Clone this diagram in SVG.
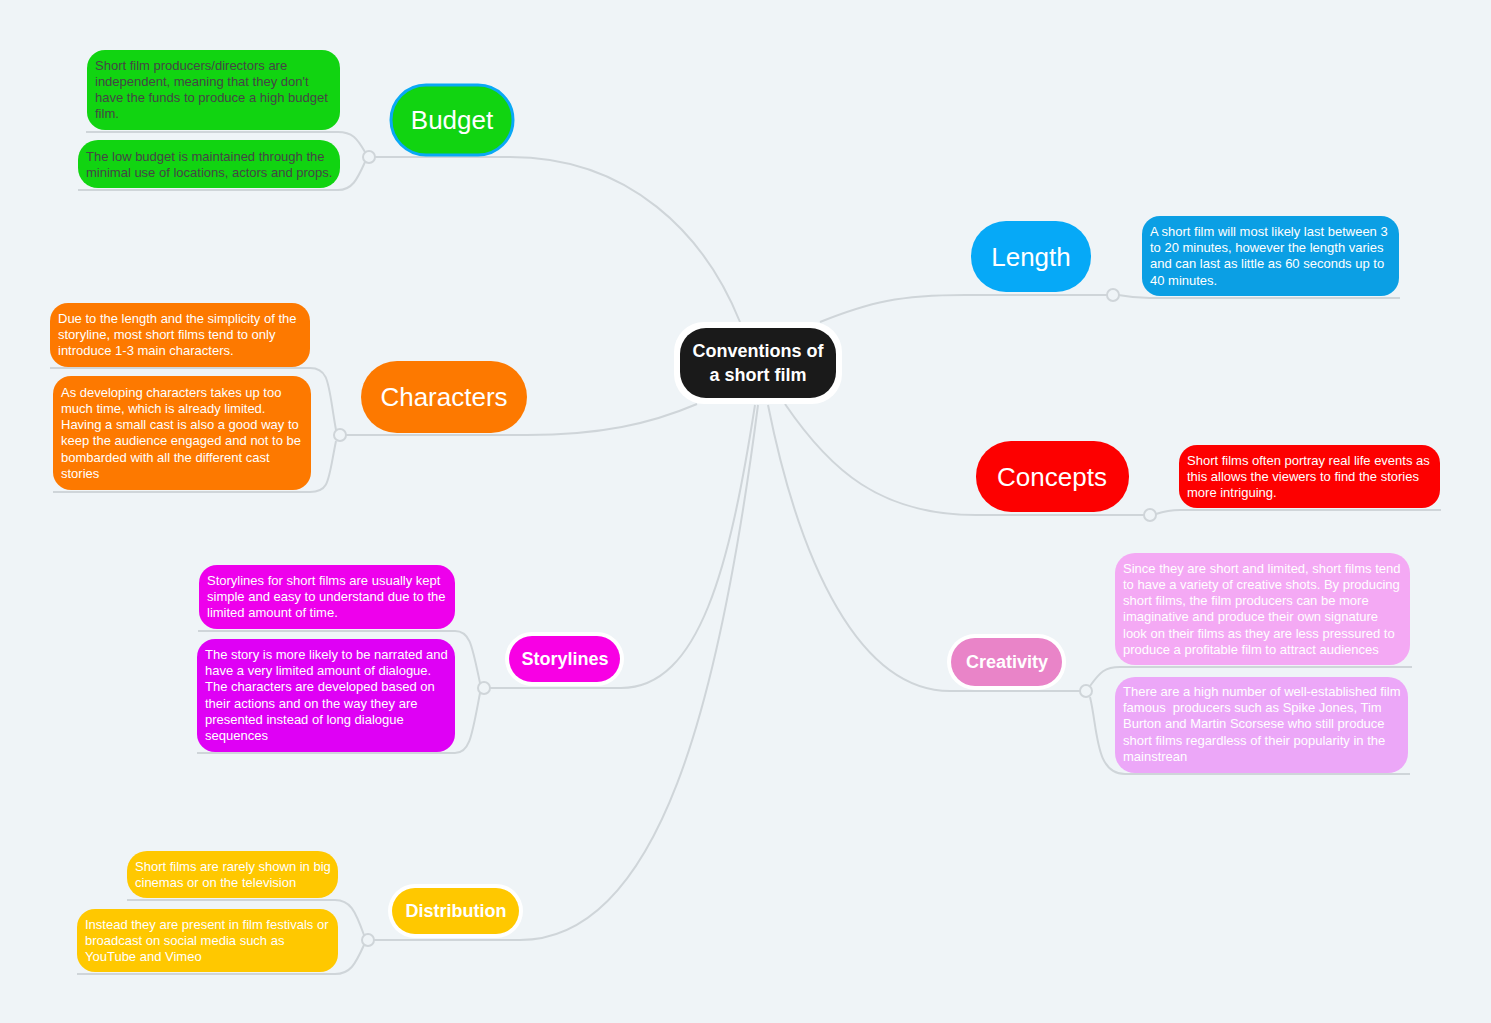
<svg xmlns="http://www.w3.org/2000/svg" width="1491" height="1023" viewBox="0 0 1491 1023">
<style>
.bg{fill:#eff4f7}
.ln{fill:none;stroke:#cfd5d9;stroke-width:2}
.knob{fill:#eff4f7;stroke:#cfd5d9;stroke-width:2}
.big{font-family:"Liberation Sans",Arial,sans-serif;font-size:26px;fill:#fff;text-anchor:middle}
.mid{font-family:"Liberation Sans",Arial,sans-serif;font-size:18px;font-weight:bold;fill:#fff;text-anchor:middle}
.t{font-family:"Liberation Sans",Arial,sans-serif;font-size:13px;fill:#fff}
.td{font-family:"Liberation Sans",Arial,sans-serif;font-size:13px;fill:#454545}
</style>
<rect class="bg" x="0" y="0" width="1491" height="1023"/>
<g id="connectors">
<path class="ln" d="M740,322 C705,235 630,157 510,157 L375,157"/>
<path class="ln" d="M820,322 C870,302 900,295 965,295 L1107,295"/>
<path class="ln" d="M697,404 C650,424 600,435 527,435 L346,435"/>
<path class="ln" d="M785,404 C830,470 880,515 976,515 L1144,515"/>
<path class="ln" d="M768,405 C800,565 860,691 950,691 L1080,691"/>
<path class="ln" d="M755,405 C730,565 700,688 621,688 L490,688"/>
<path class="ln" d="M758,405 C720,700 660,940 520,940 L374,940"/>
<path class="ln" d="M365,152 C357,138 352,132 338,132 L86,132"/>
<path class="ln" d="M365,162 C357,180 352,190 338,190 L78,190"/>
<path class="ln" d="M1119,295 C1130,297 1135,298 1150,298 L1400,298"/>
<path class="ln" d="M1156,514 C1165,511 1170,510 1180,510 L1441,510"/>
<path class="ln" d="M1090,686 C1100,672 1105,667 1120,667 L1412,667"/>
<path class="ln" d="M1090,697 C1098,730 1095,774 1125,774 L1410,774"/>
<path class="ln" d="M336,430 C328,385 330,368 310,368 L50,368"/>
<path class="ln" d="M336,441 C328,480 330,492 310,492 L53,492"/>
<path class="ln" d="M480,683 C472,645 470,631 455,631 L198,631"/>
<path class="ln" d="M480,693 C472,735 470,753 455,753 L197,753"/>
<path class="ln" d="M364,935 C355,910 350,900 335,900 L127,900"/>
<path class="ln" d="M364,945 C355,965 350,974 335,974 L77,974"/>
<circle class="knob" cx="369" cy="157" r="6"/>
<circle class="knob" cx="1113" cy="295" r="6"/>
<circle class="knob" cx="340" cy="435" r="6"/>
<circle class="knob" cx="1150" cy="515" r="6"/>
<circle class="knob" cx="1086" cy="691" r="6"/>
<circle class="knob" cx="484" cy="688" r="6"/>
<circle class="knob" cx="368" cy="940" r="6"/>
</g>
<g id="center">
<rect x="674" y="322" width="168" height="82" rx="30" fill="#fff"/>
<rect x="680" y="328" width="156" height="70" rx="26" fill="#1a1a1a"/>
<text class="mid" x="758" y="357">Conventions of</text>
<text class="mid" x="758" y="381">a short film</text>
</g>
<g id="budget">
<rect x="391" y="85" width="122" height="70" rx="35" fill="#11d411" stroke="#0aa8f5" stroke-width="3"/>
<text class="big" x="452" y="129">Budget</text>
</g>
<g id="budget-1">
<rect x="87" y="50" width="253" height="80" rx="18" fill="#11d411"/>
<text class="td" x="95" y="70">Short film producers/directors are</text>
<text class="td" x="95" y="86">independent, meaning that they don't</text>
<text class="td" x="95" y="102">have the funds to produce a high budget</text>
<text class="td" x="95" y="118">film.</text>
</g>
<g id="budget-2">
<rect x="78" y="140" width="262" height="48" rx="20" fill="#11d411"/>
<text class="td" x="86" y="161">The low budget is maintained through the</text>
<text class="td" x="86" y="177">minimal use of locations, actors and props.</text>
</g>
<g id="length">
<rect x="971" y="221" width="120" height="71" rx="35" fill="#06a9f7"/>
<text class="big" x="1031" y="266">Length</text>
</g>
<g id="length-1">
<rect x="1142" y="216" width="257" height="80" rx="18" fill="#0b9fe4"/>
<text class="t" x="1150" y="236">A short film will most likely last between 3</text>
<text class="t" x="1150" y="252">to 20 minutes, however the length varies</text>
<text class="t" x="1150" y="268">and can last as little as 60 seconds up to</text>
<text class="t" x="1150" y="285">40 minutes.</text>
</g>
<g id="characters">
<rect x="361" y="361" width="166" height="72" rx="36" fill="#fd7900"/>
<text class="big" x="444" y="406">Characters</text>
</g>
<g id="characters-1">
<rect x="50" y="303" width="260" height="64" rx="18" fill="#fd7900"/>
<text class="t" x="58" y="323">Due to the length and the simplicity of the</text>
<text class="t" x="58" y="339">storyline, most short films tend to only</text>
<text class="t" x="58" y="355">introduce 1-3 main characters.</text>
</g>
<g id="characters-2">
<rect x="53" y="376" width="258" height="114" rx="18" fill="#fd7900"/>
<text class="t" x="61" y="397">As developing characters takes up too</text>
<text class="t" x="61" y="413">much time, which is already limited.</text>
<text class="t" x="61" y="429">Having a small cast is also a good way to</text>
<text class="t" x="61" y="445">keep the audience engaged and not to be</text>
<text class="t" x="61" y="462">bombarded with all the different cast</text>
<text class="t" x="61" y="478">stories</text>
</g>
<g id="concepts">
<rect x="976" y="441" width="153" height="71" rx="35" fill="#fd0000"/>
<text class="big" x="1052" y="486">Concepts</text>
</g>
<g id="concepts-1">
<rect x="1179" y="445" width="261" height="63" rx="18" fill="#fd0000"/>
<text class="t" x="1187" y="465">Short films often portray real life events as</text>
<text class="t" x="1187" y="481">this allows the viewers to find the stories</text>
<text class="t" x="1187" y="497">more intriguing.</text>
</g>
<g id="creativity">
<rect x="947" y="634" width="119" height="56" rx="28" fill="#fff"/>
<rect x="951" y="638" width="111" height="48" rx="24" fill="#e984c8"/>
<text class="mid" x="1007" y="668">Creativity</text>
</g>
<g id="creativity-1">
<rect x="1115" y="553" width="295" height="112" rx="20" fill="#f4a9f4"/>
<text class="t" x="1123" y="573">Since they are short and limited, short films tend</text>
<text class="t" x="1123" y="589">to have a variety of creative shots. By producing</text>
<text class="t" x="1123" y="605">short films, the film producers can be more</text>
<text class="t" x="1123" y="621">imaginative and produce their own signature</text>
<text class="t" x="1123" y="638">look on their films as they are less pressured to</text>
<text class="t" x="1123" y="654">produce a profitable film to attract audiences</text>
</g>
<g id="creativity-2">
<rect x="1115" y="677" width="293" height="96" rx="20" fill="#eca7f8"/>
<text class="t" x="1123" y="696">There are a high number of well-established film</text>
<text class="t" x="1123" y="712">famous &#160;producers such as Spike Jones, Tim</text>
<text class="t" x="1123" y="728">Burton and Martin Scorsese who still produce</text>
<text class="t" x="1123" y="745">short films regardless of their popularity in the</text>
<text class="t" x="1123" y="761">mainstrean</text>
</g>
<g id="storylines">
<rect x="505" y="632" width="119" height="54" rx="27" fill="#fff"/>
<rect x="509" y="636" width="111" height="46" rx="23" fill="#f800e4"/>
<text class="mid" x="565" y="665">Storylines</text>
</g>
<g id="storylines-1">
<rect x="199" y="565" width="256" height="64" rx="18" fill="#ee00ec"/>
<text class="t" x="207" y="585">Storylines for short films are usually kept</text>
<text class="t" x="207" y="601">simple and easy to understand due to the</text>
<text class="t" x="207" y="617">limited amount of time.</text>
</g>
<g id="storylines-2">
<rect x="197" y="639" width="258" height="113" rx="18" fill="#df00f5"/>
<text class="t" x="205" y="659">The story is more likely to be narrated and</text>
<text class="t" x="205" y="675">have a very limited amount of dialogue.</text>
<text class="t" x="205" y="691">The characters are developed based on</text>
<text class="t" x="205" y="708">their actions and on the way they are</text>
<text class="t" x="205" y="724">presented instead of long dialogue</text>
<text class="t" x="205" y="740">sequences</text>
</g>
<g id="distribution">
<rect x="388" y="884" width="135" height="54" rx="27" fill="#fff"/>
<rect x="392" y="888" width="127" height="46" rx="23" fill="#ffc800"/>
<text class="mid" x="456" y="917">Distribution</text>
</g>
<g id="distribution-1">
<rect x="127" y="851" width="211" height="47" rx="20" fill="#ffc800"/>
<text class="t" x="135" y="871">Short films are rarely shown in big</text>
<text class="t" x="135" y="887">cinemas or on the television</text>
</g>
<g id="distribution-2">
<rect x="77" y="909" width="261" height="63" rx="18" fill="#ffc800"/>
<text class="t" x="85" y="929">Instead they are present in film festivals or</text>
<text class="t" x="85" y="945">broadcast on social media such as</text>
<text class="t" x="85" y="961">YouTube and Vimeo</text>
</g>
</svg>
